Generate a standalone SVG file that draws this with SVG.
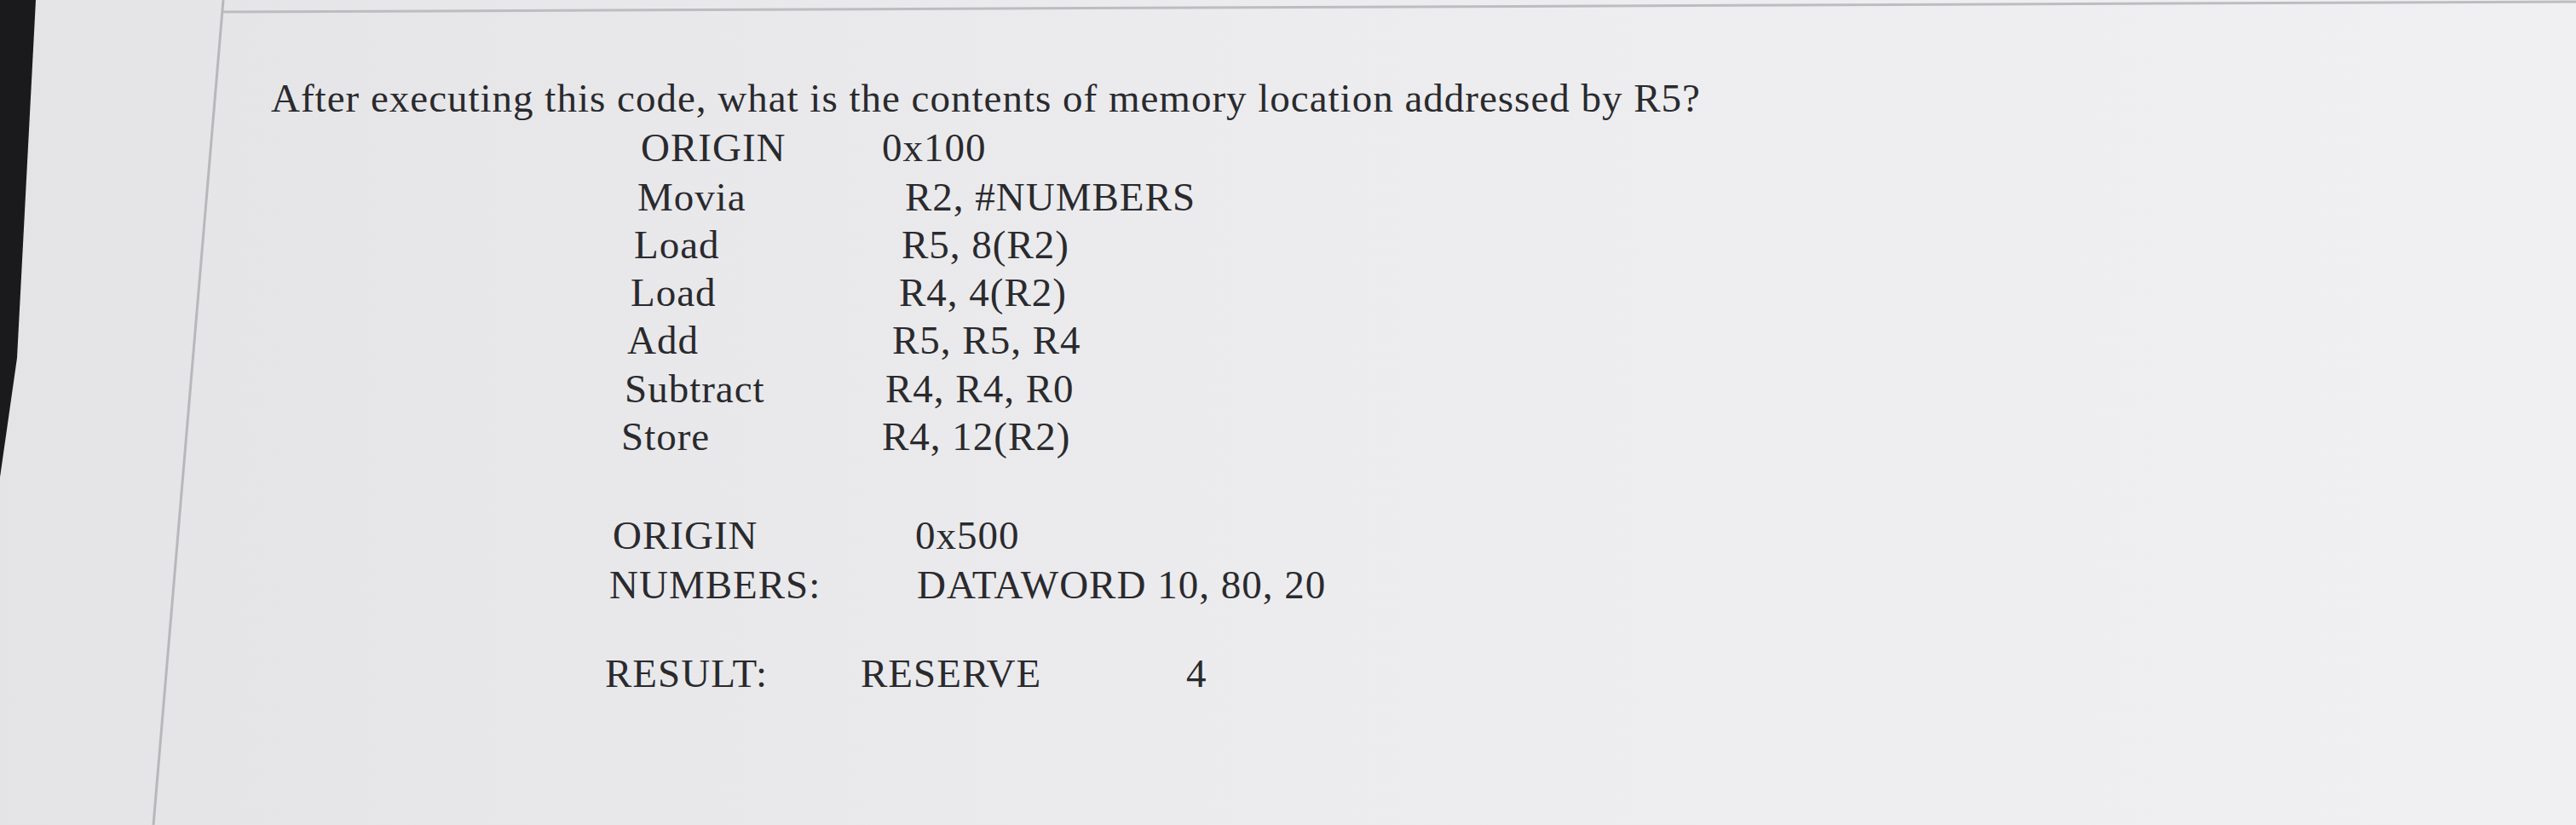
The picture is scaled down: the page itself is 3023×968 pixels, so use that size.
<svg xmlns="http://www.w3.org/2000/svg" width="3023" height="968" viewBox="0 0 3023 968">
<defs>
<linearGradient id="bg" x1="0" y1="0" x2="1" y2="0">
<stop offset="0" stop-color="#e4e4e6"/><stop offset="0.5" stop-color="#ececee"/><stop offset="1" stop-color="#f0f0f2"/>
</linearGradient>
<style>
text{font-family:"Liberation Serif","Times New Roman",serif;font-size:47px;letter-spacing:1px;fill:#2a2a2e}
</style>
</defs>
<rect width="3023" height="968" fill="url(#bg)"/>
<polygon points="0,0 42,0 20,420 0,560" fill="#1a1a1c"/>
<line x1="262" y1="0" x2="180" y2="968" stroke="#b8b8bc" stroke-width="3"/>
<line x1="262" y1="14" x2="3023" y2="2" stroke="#bdbdc1" stroke-width="3"/>
<text x="318" y="131">After executing this code, what is the contents of memory location addressed by R5?</text>
<g id="code">
<text x="752" y="189">ORIGIN</text><text x="1035" y="189">0x100</text>
<text x="748" y="247">Movia</text><text x="1062" y="247">R2, #NUMBERS</text>
<text x="744" y="303">Load</text><text x="1058" y="303">R5, 8(R2)</text>
<text x="740" y="359">Load</text><text x="1055" y="359">R4, 4(R2)</text>
<text x="736" y="415">Add</text><text x="1047" y="415">R5, R5, R4</text>
<text x="733" y="472">Subtract</text><text x="1039" y="472">R4, R4, R0</text>
<text x="729" y="528">Store</text><text x="1035" y="528">R4, 12(R2)</text>
<text x="719" y="644">ORIGIN</text><text x="1074" y="644">0x500</text>
<text x="715" y="702">NUMBERS:</text><text x="1076" y="702">DATAWORD 10, 80, 20</text>
<text x="710" y="806">RESULT:</text><text x="1010" y="806">RESERVE</text><text x="1392" y="806">4</text>
</g>
</svg>
